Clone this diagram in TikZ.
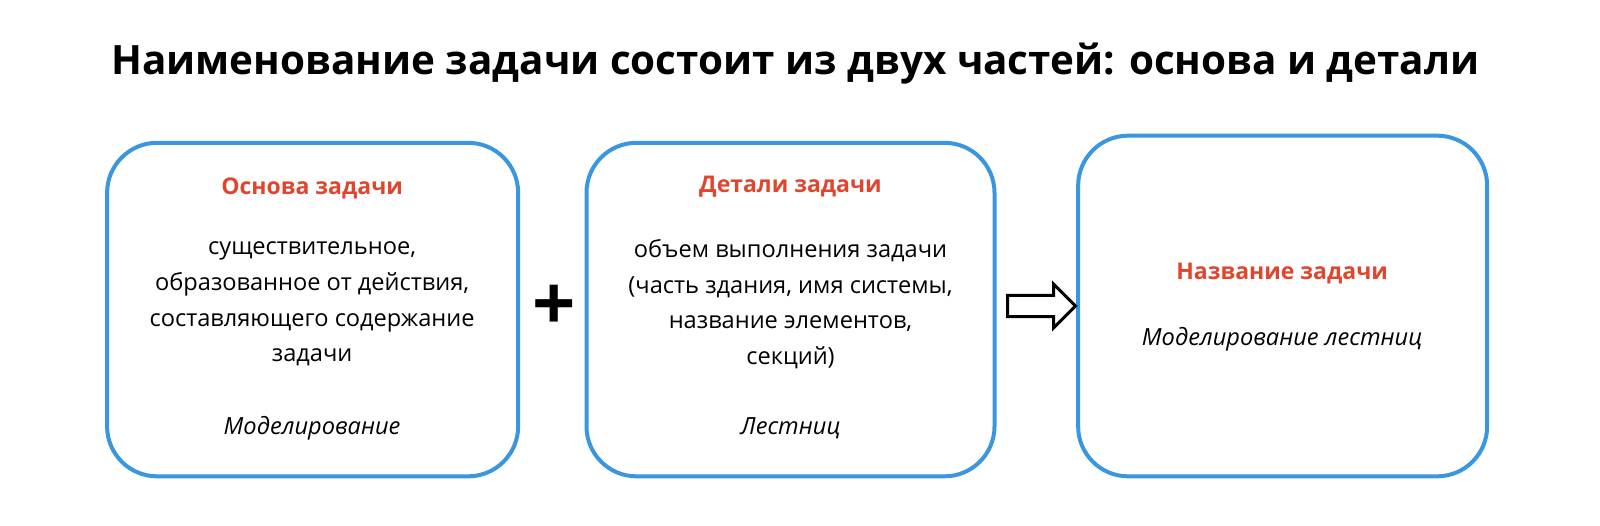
\documentclass[tikz,border=0pt]{standalone}
\usepackage{fontspec}
\setmainfont{Open Sans}
\usetikzlibrary{shapes.arrows}
\definecolor{boxblue}{HTML}{3B96E0}
\definecolor{headred}{HTML}{E0462E}
\tikzset{
  partbox/.style = {draw=boxblue, line width=2pt, rounded corners=25pt},
  head/.style = {text=headred, font=\bfseries\fontsize{11.5}{14}\selectfont},
  body/.style = {align=center, font=\fontsize{11.8}{17.8}\selectfont},
  example/.style = {font=\itshape\fontsize{11.8}{14}\selectfont}
}
\begin{document}
\begin{tikzpicture}[x=0.51pt, y=-0.51pt]
        \useasboundingbox (0,0) rectangle (800pt,-262.5pt);
        \node[font=\bfseries\fontsize{20.2}{24}\selectfont] (title) at (780,62) {Наименование задачи состоит из двух частей: основа и детали};

        \draw[partbox] (105,140) rectangle (508,467);
        \draw[partbox] (575,140) rectangle (975,467);
        \draw[partbox] (1057,133) rectangle (1458,467);

        \node[head] (basehead) at (306,185) {Основа задачи};
        \node[body] (basetext) at (306,298) {существительное,\\образованное от действия,\\составляющего содержание\\задачи};
        \node[example] (baseex) at (306,420) {Моделирование};

        \node[head] (detailhead) at (775,183) {Детали задачи};
        \node[body] (detailtext) at (775,298) {объем выполнения задачи\\(часть здания, имя системы,\\название элементов,\\секций)};
        \node[example] (detailex) at (775,420) {Лестниц};

        \node[head] (namehead) at (1257,268) {Название задачи};
        \node[example] (nameex) at (1257,333) {Моделирование лестниц};

        % plus and arrow between the boxes
        \node[font=\bfseries\fontsize{38}{38}\selectfont] (plus) at (543,302) {+};
        \node[single arrow, draw, line width=1.5pt, minimum width=22pt, minimum height=34pt,
              single arrow head extend=3pt, inner sep=2pt] (result) at (1016,300) {};
\end{tikzpicture}
\end{document}
